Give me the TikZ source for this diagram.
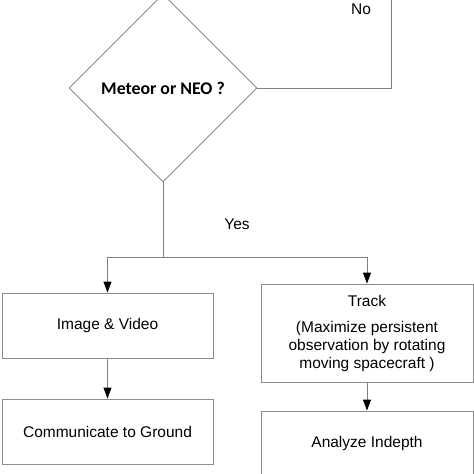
\documentclass[tikz,border=0pt]{standalone}
\usepackage{fontspec}
\setmainfont{Liberation Sans}
\newfontfamily\calibrifont{Carlito}
\usetikzlibrary{shapes.geometric,arrows.meta}

\tikzset{
  flowline/.style={draw=black!50, line width=0.9pt},
  flowarrow/.style={flowline, -{Triangle[width=8pt,length=11pt,black]}},
  stepbox/.style={draw=black!45, line width=0.9pt, fill=white, rectangle,
    align=center, inner sep=0pt, font=\fontsize{15.5}{18}\selectfont},
  decision/.style={draw=black!45, line width=0.9pt, diamond, inner sep=0pt,
    font=\calibrifont\bfseries\fontsize{17.8}{20}\selectfont},
  flowlabel/.style={font=\fontsize{15.5}{18}\selectfont}
}

\begin{document}
\begin{tikzpicture}[x=1pt,y=1pt]
				\useasboundingbox (0,0) rectangle (474,-474);
				\fill[white] (0,0) rectangle (474,-474);
				% decision
				\node[decision, minimum width=188pt, minimum height=188pt] (meteor) at (163,-88) {Meteor or NEO ?};
				% boxes
				\node[stepbox, minimum width=211pt, minimum height=65pt] (image) at (107.5,-325.5) {Image \& Video};
				\node[stepbox, minimum width=211pt, minimum height=65pt] (ground) at (107.5,-431.5) {Communicate to Ground};
				\node[stepbox, minimum width=212pt, minimum height=98pt] (track) at (367,-333)
					{Track\\[8pt](Maximize persistent\\observation by rotating\\moving spacecraft )};
				\node[stepbox, minimum width=212pt, minimum height=65pt] (analyze) at (367,-443.5) {Analyze Indepth};
				% connectors
				\coordinate (split) at (163,-257);
				\coordinate (nocorner) at (391,-88);
				\coordinate (noend) at (391,2);
				\draw[flowline] (meteor.east) -- (nocorner) -- (noend);
				\draw[flowline] (meteor.south) -- (split);
				\draw[flowarrow] (split) -| (image.north);
				\draw[flowarrow] (split) -| (track.north);
				\draw[flowarrow] (image) -- (ground);
				\draw[flowarrow] (track) -- (analyze);
				% labels
				\node[flowlabel] (yes) at (237,-224) {Yes};
				\node[flowlabel] (no) at (361,-9) {No};
			\end{tikzpicture}
\end{document}
